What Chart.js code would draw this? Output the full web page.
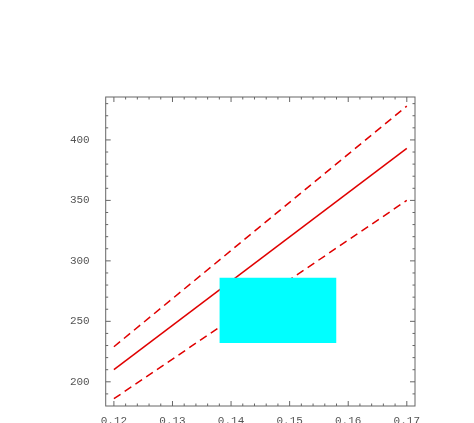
<!DOCTYPE html>
<html>
<head>
<script src="https://cdn.jsdelivr.net/npm/chart.js@4"></script>
<style>
  body { margin: 0; background: #fff; }
  #wrap { width: 474px; height: 423px; }
</style>
</head>
<body>
<div id="wrap"><canvas id="myChart"></canvas></div>
<script>
const xTicks = [0.12, 0.13, 0.14, 0.15, 0.16, 0.17];
const yTicks = [200, 250, 300, 350, 400];
const lineX = [0.12, 0.17];
const centerY = [210, 393];
const upperY = [229, 428];
const lowerY = [186, 350];
const boxX = [0.138, 0.158];
const boxTop = [286, 286];
const boxBottom = [232, 232];

const pts = (xs, ys) => xs.map((x, i) => ({ x: x, y: ys[i] }));

// Mathematica-like frame with inward ticks
const frameTicks = {
  id: "frameTicks",
  afterDraw(chart) {
    const c = chart.ctx, a = chart.chartArea;
    const xs = chart.scales.x, ys = chart.scales.y;
    c.save();
    c.strokeStyle = "#666";
    c.lineWidth = 1;
    c.strokeRect(a.left, a.top, a.right - a.left, a.bottom - a.top);
    c.beginPath();
    for (let v = 0.12; v <= 0.1701; v += 0.002) {
      const p = xs.getPixelForValue(v);
      const major = Math.abs(v * 100 - Math.round(v * 100)) < 1e-6;
      const len = major ? 5 : 2.5;
      c.moveTo(p, a.bottom); c.lineTo(p, a.bottom - len);
      c.moveTo(p, a.top); c.lineTo(p, a.top + len);
    }
    for (let v = 190; v <= 430; v += 10) {
      const p = ys.getPixelForValue(v);
      const len = v % 50 === 0 ? 5 : 2.5;
      c.moveTo(a.left, p); c.lineTo(a.left + len, p);
      c.moveTo(a.right, p); c.lineTo(a.right - len, p);
    }
    c.stroke();
    c.restore();
  },
};

new Chart(document.getElementById("myChart"), {
  type: "line",
  data: {
    datasets: [
      { data: pts(boxX, boxBottom), borderWidth: 0, pointRadius: 0, fill: false },
      { data: pts(boxX, boxTop), borderWidth: 0, pointRadius: 0, fill: "-1", backgroundColor: "#00ffff" },
      { data: pts(lineX, centerY), borderColor: "#e00000", borderWidth: 1.5, pointRadius: 0, fill: false },
      { data: pts(lineX, upperY), borderColor: "#e00000", borderWidth: 1.5, borderDash: [8, 5], pointRadius: 0, fill: false },
      { data: pts(lineX, lowerY), borderColor: "#e00000", borderWidth: 1.5, borderDash: [8, 5], pointRadius: 0, fill: false },
    ],
  },
  options: {
    responsive: true,
    maintainAspectRatio: false,
    animation: false,
    layout: { padding: { top: 97, right: 59, bottom: 0, left: 0 } },
    plugins: { legend: { display: false }, tooltip: { enabled: false } },
    scales: {
      x: {
        type: "linear",
        min: 0.1186,
        max: 0.1714,
        afterBuildTicks: (s) => { s.ticks = xTicks.map((v) => ({ value: v })); },
        afterFit: (s) => { s.height = 17; },
        grid: { display: false },
        border: { display: false },
        ticks: { padding: 0, color: "#555", font: { family: "Liberation Mono", size: 11 }, maxRotation: 0, callback: (v) => v.toFixed(2) },
      },
      y: {
        min: 180,
        max: 435.5,
        afterBuildTicks: (s) => { s.ticks = yTicks.map((v) => ({ value: v })); },
        afterFit: (s) => { s.width = 105.7; },
        grid: { display: false },
        border: { display: false },
        ticks: { padding: 8, color: "#555", font: { family: "Liberation Mono", size: 11 } },
      },
    },
  },
  plugins: [frameTicks],
});
</script>
</body>
</html>
